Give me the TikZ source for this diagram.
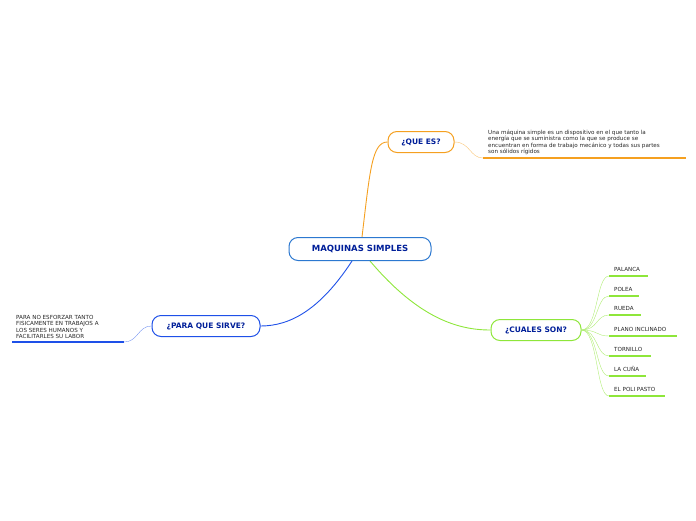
\documentclass[tikz,border=0pt]{standalone}
\usepackage{fontspec}
\setmainfont{DejaVu Sans}
\begin{document}
\begin{tikzpicture}[x=1pt,y=-1pt,
  topic/.style={draw,line width=1pt,rounded corners=9pt,fill=white,font=\bfseries\fontsize{7.5}{9}\selectfont,text=black!70!green!40!blue,inner sep=0pt},
  leaf/.style={font=\fontsize{5.6}{6.4}\selectfont,align=left,anchor=south west,inner sep=0pt,text=black!85},
  conn/.style={line width=0.9pt},
  thin/.style={line width=0.4pt}]
\definecolor{cb}{HTML}{2C78D0}
\definecolor{cbl}{HTML}{1E50E8}
\definecolor{co}{HTML}{F5A020}
\definecolor{cg}{HTML}{8EE63A}
\useasboundingbox (0,0) rectangle (696,520);
% connectors
\coordinate (m1) at (362,237); \coordinate (m2) at (352,261); \coordinate (m3) at (370,261);
\node[topic,draw=co,minimum width=66pt,minimum height=21pt] (q) at (421,142) {¿QUE ES?};
\node[topic,draw=cbl,minimum width=108pt,minimum height=21pt] (p) at (206,326) {¿PARA QUE SIRVE?};
\node[topic,draw=cg,minimum width=90pt,minimum height=21pt] (c) at (536,330) {¿CUALES SON?};
\draw[conn,co] (m1) .. controls (370,170) and (372,142) .. (q.west);
\draw[conn,cbl] (m2) .. controls (320,310) and (290,326) .. (p.east);
\draw[conn,cg] (m3) .. controls (420,320) and (460,330) .. (c.west);
\node[topic,draw=cb,minimum width=142pt,minimum height=23pt,font=\bfseries\fontsize{8.5}{10}\selectfont] (m) at (360,249) {MAQUINAS SIMPLES};
% QUE ES leaf
\coordinate (qa) at (483,158); \coordinate (qb) at (686,158);
\draw[thin,co!60] (q.east) .. controls (470,142) and (470,158) .. (qa);
\draw[co,line width=1.2pt] (qa) -- (qb);
\node[leaf] (qt) at (488,155) {Una máquina simple es un dispositivo en el que tanto la\\energía que se suministra como la que se produce se\\encuentran en forma de trabajo mecánico y todas sus partes\\son sólidos rígidos};
% PARA leaf
\coordinate (pa) at (124,342); \coordinate (pb) at (12,342);
\draw[thin,cbl!60] (p.west) .. controls (138,326) and (138,342) .. (pa);
\draw[cbl,line width=1.2pt] (pa) -- (pb);
\node[leaf] (pt) at (16,339) {PARA NO ESFORZAR TANTO\\FISICAMENTE EN TRABAJOS A\\LOS SERES HUMANOS Y\\FACILITARLES SU LABOR};
% CUALES leaves
\foreach \y/\e/\t [count=\i] in {276/648/PALANCA,296/639/POLEA,315/641/RUEDA,336/677/PLANO INCLINADO,356/651/TORNILLO,376/646/LA CUÑA,396/665/EL POLI PASTO}{
  \coordinate (la\i) at (609,\y); \coordinate (lb\i) at (\e,\y);
  \draw[thin,cg!70] (c.east) .. controls (598,330) and (596,\y) .. (la\i);
  \draw[cg,line width=1.2pt] (la\i) -- (lb\i);
  \node[leaf] (lt\i) at (614,\y-4) {\t};
}
\end{tikzpicture}
\end{document}
